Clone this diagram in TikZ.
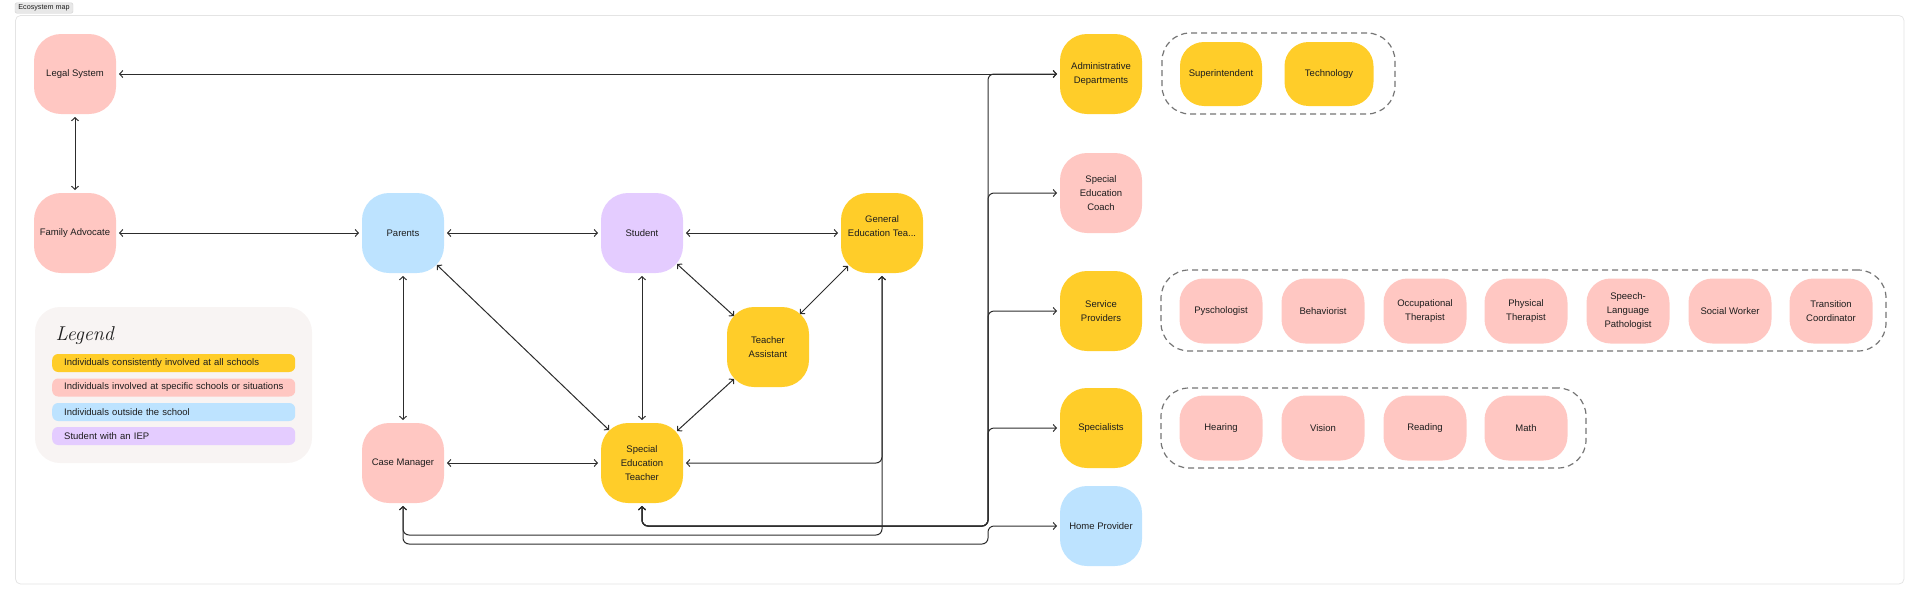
\documentclass[tikz,border=0pt]{standalone}
\usepackage{fontspec}
\newfontfamily\uisans{Liberation Sans}
\usetikzlibrary{arrows.meta,calc}
\definecolor{cyel}{HTML}{FFCD29}
\definecolor{cpink}{HTML}{FFC7C2}
\definecolor{cblue}{HTML}{BDE3FF}
\definecolor{cpurp}{HTML}{E4CCFF}
\definecolor{ink}{HTML}{1E1E1E}
\definecolor{wire}{HTML}{2C2C2C}
\definecolor{legbg}{HTML}{F8F4F3}
\definecolor{framegray}{HTML}{E4E4E4}
\definecolor{tabfill}{HTML}{E8E8E8}
\definecolor{tabline}{HTML}{D2D2D2}
\definecolor{dashgray}{HTML}{757575}
\begin{document}
\begin{tikzpicture}[x=1pt,y=-1pt,
  >={Straight Barb[length=3.2pt,width=7pt]},
  mainbox/.style={rounded corners=27pt, minimum width=82pt, minimum height=80pt,
    inner sep=1pt, outer sep=3pt, align=center, text=ink,
    font=\uisans\fontsize{9.5}{13.7}\selectfont},
  subbox/.style={mainbox, minimum width=83pt, minimum height=65pt, rounded corners=24pt, fill=cpink},
  conn/.style={draw=wire, line width=1pt, <->, rounded corners=6pt},
  grp/.style={draw=dashgray, line width=1.2pt, dash pattern=on 6pt off 4pt, rounded corners=28pt, inner sep=0pt},
  legbar/.style={rounded corners=6pt, minimum height=18pt, inner xsep=12pt, inner ysep=0pt,
    text width=219pt, align=left, anchor=west, text=ink,
    font=\uisans\fontsize{9.5}{11}\selectfont}
]
\useasboundingbox (0,0) rectangle (1920,600);
% frame and tab
\draw[framegray, line width=0.8pt, rounded corners=5pt] (15.5,15.5) rectangle (1904,584);
\node[draw=tabline, fill=tabfill, rounded corners=2pt, minimum width=58pt, minimum height=10.5pt,
  inner sep=0pt, text=ink, font=\uisans\fontsize{7.2}{8}\selectfont] (tab) at (44,8) {Ecosystem map};

% legend
\node[fill=legbg, rounded corners=25pt, minimum width=277pt, minimum height=156pt, inner sep=0pt] (leg) at (173.5,385) {};
\node[anchor=base west, text=ink, font=\itshape\fontsize{20}{20}\selectfont] (legt) at (52,340) {Legend};
\node[legbar, fill=cyel] (l1) at (52,363) {\mbox{Individuals consistently involved at all schools}};
\node[legbar, fill=cpink] (l2) at (52,387.5) {\mbox{Individuals involved at specific schools or situations}};
\node[legbar, fill=cblue] (l3) at (52,412) {\mbox{Individuals outside the school}};
\node[legbar, fill=cpurp] (l4) at (52,436) {\mbox{Student with an IEP}};

% main nodes
\node[mainbox, fill=cpink] (legal) at (75,74) {Legal System};
\node[mainbox, fill=cpink] (fam) at (75,233) {Family Advocate};
\node[mainbox, fill=cblue] (par) at (403,233) {Parents};
\node[mainbox, fill=cpurp] (stu) at (642,233) {Student};
\node[mainbox, fill=cyel] (gen) at (882,233) {General\\Education Tea...\\\mbox{}};
\node[mainbox, fill=cyel] (ta) at (768,347) {Teacher\\Assistant};
\node[mainbox, fill=cpink] (cm) at (403,463) {Case Manager};
\node[mainbox, fill=cyel] (sped) at (642,463) {Special\\Education\\Teacher};
\node[mainbox, fill=cyel] (adm) at (1101,74) {Administrative\\Departments};
\node[mainbox, fill=cpink] (coach) at (1101,193) {Special\\Education\\Coach};
\node[mainbox, fill=cyel] (serv) at (1101,311) {Service\\Providers};
\node[mainbox, fill=cyel] (spec) at (1101,428) {Specialists};
\node[mainbox, fill=cblue] (home) at (1101,526) {Home Provider};

% groups
\node[grp, minimum width=233pt, minimum height=81pt] (g1) at (1278.5,73.5) {};
\node[subbox, fill=cyel, minimum width=82pt, minimum height=64pt] (sup) at (1221,74) {Superintendent};
\node[subbox, fill=cyel, minimum width=89pt, minimum height=64pt] (tech) at (1329,74) {Technology};

\node[grp, minimum width=725pt, minimum height=81pt] (g2) at (1523.5,310.5) {};
\node[subbox] (psy) at (1221,311) {Pyschologist};
\node[subbox] (beh) at (1323,311) {Behaviorist};
\node[subbox] (occ) at (1425,311) {Occupational\\Therapist};
\node[subbox] (phy) at (1526,311) {Physical\\Therapist};
\node[subbox] (slp) at (1628,311) {Speech-\\Language\\Pathologist};
\node[subbox] (soc) at (1730,311) {Social Worker};
\node[subbox] (tra) at (1831,311) {Transition\\Coordinator};

\node[grp, minimum width=425pt, minimum height=80pt] (g3) at (1373.5,428) {};
\node[subbox] (hea) at (1221,428) {Hearing};
\node[subbox] (vis) at (1323,428) {Vision};
\node[subbox] (rea) at (1425,428) {Reading};
\node[subbox] (mat) at (1526,428) {Math};

% bus coordinates
\coordinate (busA) at (988,526);
\coordinate (busB) at (988,544);

% connectors
\draw[conn] (legal) -- (fam);
\draw[conn] (legal) -- (adm);
\draw[conn] (fam) -- (par);
\draw[conn] (par) -- (stu);
\draw[conn] (stu) -- (gen);
\draw[conn] (par) -- (cm);
\draw[conn] (stu) -- (sped);
\draw[conn] (cm) -- (sped);
\draw[conn] ($(stu.center)+(35,31)$) -- ($(ta.center)+(-34,-31)$);
\draw[conn] ($(gen.center)+(-34,33)$) -- ($(ta.center)+(32,-33)$);
\draw[conn] ($(ta.center)+(-34,32)$) -- ($(sped.center)+(35,-32)$);
\draw[conn] ($(par.center)+(34,32)$) -- ($(sped.center)+(-33,-33)$);
\draw[conn] (gen.south) |- (sped.east);
\draw[conn] (gen.south) |- ($(cm.south)+(0,29)$) -- (cm.south);
\foreach \t in {adm,coach,serv,spec}{
  \draw[conn] (sped.south) |- (busA) |- (\t.west);
}
\draw[conn] (cm.south) |- (busB) |- (home.west);
\end{tikzpicture}
\end{document}
